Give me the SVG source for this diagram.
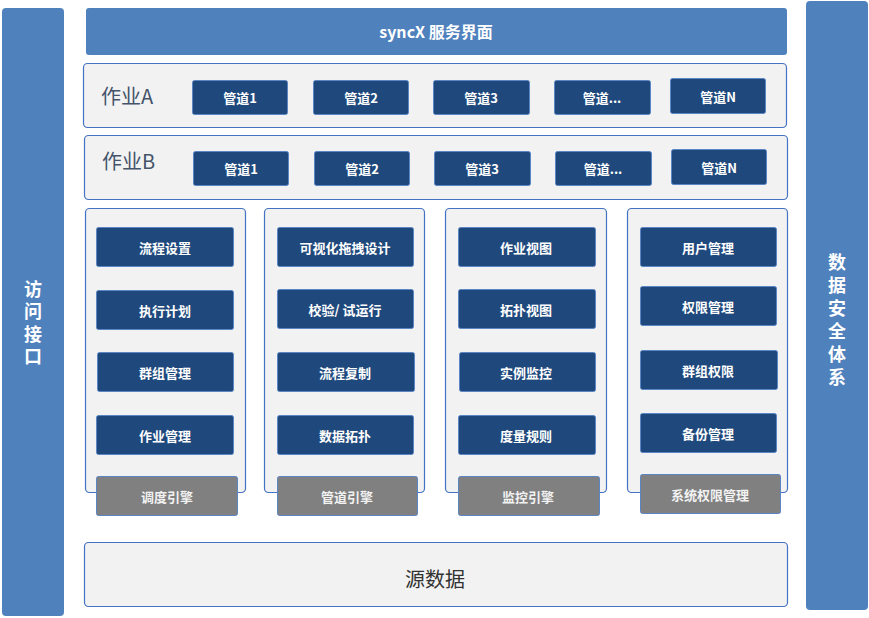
<svg xmlns="http://www.w3.org/2000/svg" width="869" height="618" viewBox="0 0 869 618">
<style>
  text { font-family: "Noto Sans CJK SC", "Liberation Sans", sans-serif; }
  .side { fill: #4F81BD; }
  .sidet { fill: #FFFFFF; font-size: 18px; font-weight: bold; writing-mode: vertical-rl; text-anchor: start; }
  .cont { fill: #F2F2F2; stroke: #4472C4; stroke-width: 1.2; }
  .dark { fill: #1F497D; stroke: #5B86C5; stroke-width: 1; }
  .dt { fill: #FFFFFF; font-size: 13px; font-weight: bold; text-anchor: middle; dominant-baseline: central; }
  .eng { fill: #808080; stroke: #5B86C5; stroke-width: 1; }
  .et { fill: #F2F2F2; font-size: 13px; font-weight: bold; text-anchor: middle; dominant-baseline: central; }
  .job { fill: #44546A; font-size: 20px; }
</style>

<g id="access">
  <rect class="side" x="2" y="8" width="62" height="608" rx="4"/>
  <text class="sidet" x="33" y="280" letter-spacing="4.5">访问接口</text>
</g>

<g id="security">
  <rect class="side" x="806" y="1" width="62" height="609" rx="4"/>
  <text class="sidet" x="837" y="253" letter-spacing="5">数据安全体系</text>
</g>

<g id="ui">
  <rect class="side" x="86" y="8" width="701" height="47" rx="3"/>
  <text x="436" y="31" fill="#FFFFFF" font-size="16" font-weight="bold" text-anchor="middle" dominant-baseline="central">syncX 服务界面</text>
</g>

<g id="jobA">
  <rect class="cont" x="83.5" y="63.5" width="703" height="64" rx="4"/>
  <text class="job" x="101" y="104">作业A</text>
  <rect class="dark" x="192.5" y="80.5" width="95" height="34" rx="2"/>
  <text class="dt" x="240" y="97.5">管道1</text>
  <rect class="dark" x="313.5" y="80.5" width="95" height="34" rx="2"/>
  <text class="dt" x="361" y="97.5">管道2</text>
  <rect class="dark" x="433.5" y="80.5" width="96" height="34" rx="2"/>
  <text class="dt" x="481" y="97.5">管道3</text>
  <rect class="dark" x="554.5" y="80.5" width="96" height="34" rx="2"/>
  <text class="dt" x="602" y="97.5">管道...</text>
  <rect class="dark" x="670.5" y="78.5" width="95" height="35" rx="2"/>
  <text class="dt" x="718" y="96">管道N</text>
</g>

<g id="jobB">
  <rect class="cont" x="84.5" y="135.5" width="703" height="64" rx="4"/>
  <text class="job" x="102" y="169">作业B</text>
  <rect class="dark" x="193.5" y="151.5" width="95" height="34" rx="2"/>
  <text class="dt" x="241" y="168.5">管道1</text>
  <rect class="dark" x="314.5" y="151.5" width="95" height="34" rx="2"/>
  <text class="dt" x="362" y="168.5">管道2</text>
  <rect class="dark" x="434.5" y="151.5" width="96" height="34" rx="2"/>
  <text class="dt" x="482" y="168.5">管道3</text>
  <rect class="dark" x="555.5" y="151.5" width="96" height="34" rx="2"/>
  <text class="dt" x="603" y="168.5">管道...</text>
  <rect class="dark" x="671.5" y="149.5" width="95" height="35" rx="2"/>
  <text class="dt" x="719" y="167">管道N</text>
</g>

<g id="schedule">
  <rect class="cont" x="85.5" y="208.5" width="160" height="284" rx="4"/>
  <rect class="dark" x="96.5" y="227.5" width="137" height="39" rx="2"/>
  <text class="dt" x="165" y="247">流程设置</text>
  <rect class="dark" x="96.5" y="290.5" width="137" height="39" rx="2"/>
  <text class="dt" x="165" y="310">执行计划</text>
  <rect class="dark" x="97.5" y="352.5" width="136" height="39" rx="2"/>
  <text class="dt" x="165" y="372">群组管理</text>
  <rect class="dark" x="96.5" y="415.5" width="137" height="39" rx="2"/>
  <text class="dt" x="165" y="435">作业管理</text>
  <rect class="eng" x="96.5" y="476.5" width="141" height="39" rx="2"/>
  <text class="et" x="167" y="496">调度引擎</text>
</g>

<g id="pipeline">
  <rect class="cont" x="264.5" y="208.5" width="160" height="284" rx="4"/>
  <rect class="dark" x="277.5" y="227.5" width="136" height="39" rx="2"/>
  <text class="dt" x="345" y="247">可视化拖拽设计</text>
  <rect class="dark" x="277.5" y="289.5" width="136" height="39" rx="2"/>
  <text class="dt" x="345" y="309">校验/ 试运行</text>
  <rect class="dark" x="277.5" y="352.5" width="137" height="39" rx="2"/>
  <text class="dt" x="345" y="372">流程复制</text>
  <rect class="dark" x="277.5" y="415.5" width="136" height="39" rx="2"/>
  <text class="dt" x="345" y="435">数据拓扑</text>
  <rect class="eng" x="277.5" y="476.5" width="140" height="39" rx="2"/>
  <text class="et" x="347" y="496">管道引擎</text>
</g>

<g id="monitor">
  <rect class="cont" x="445.5" y="208.5" width="161" height="284" rx="4"/>
  <rect class="dark" x="458.5" y="227.5" width="137" height="39" rx="2"/>
  <text class="dt" x="526" y="247">作业视图</text>
  <rect class="dark" x="458.5" y="289.5" width="137" height="39" rx="2"/>
  <text class="dt" x="526" y="309">拓扑视图</text>
  <rect class="dark" x="459.5" y="352.5" width="136" height="39" rx="2"/>
  <text class="dt" x="526" y="372">实例监控</text>
  <rect class="dark" x="458.5" y="415.5" width="137" height="39" rx="2"/>
  <text class="dt" x="526" y="435">度量规则</text>
  <rect class="eng" x="458.5" y="476.5" width="141" height="39" rx="2"/>
  <text class="et" x="528" y="496">监控引擎</text>
</g>

<g id="auth">
  <rect class="cont" x="627.5" y="208.5" width="160" height="284" rx="4"/>
  <rect class="dark" x="640.5" y="227.5" width="136" height="39" rx="2"/>
  <text class="dt" x="708" y="247">用户管理</text>
  <rect class="dark" x="640.5" y="286.5" width="136" height="39" rx="2"/>
  <text class="dt" x="708" y="306">权限管理</text>
  <rect class="dark" x="640.5" y="350.5" width="137" height="39" rx="2"/>
  <text class="dt" x="708" y="370">群组权限</text>
  <rect class="dark" x="640.5" y="413.5" width="136" height="39" rx="2"/>
  <text class="dt" x="708" y="433">备份管理</text>
  <rect class="eng" x="640.5" y="474.5" width="140" height="39" rx="2"/>
  <text class="et" x="710" y="494">系统权限管理</text>
</g>

<g id="source">
  <rect class="cont" x="84.5" y="542.5" width="703" height="64" rx="4"/>
  <text x="435" y="578" fill="#333333" font-size="20" text-anchor="middle" dominant-baseline="central">源数据</text>
</g>

<g id="connectors"></g>
</svg>
